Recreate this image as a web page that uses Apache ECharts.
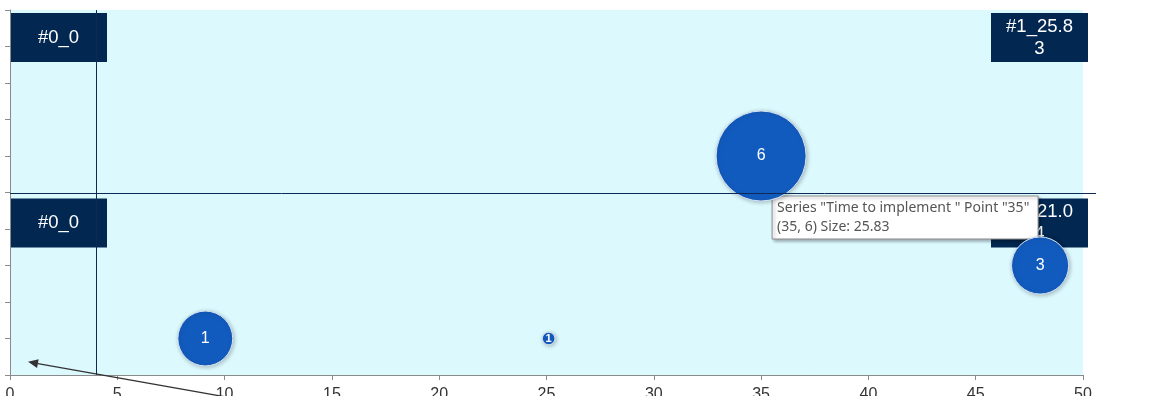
<!DOCTYPE html>
<html>
<head>
<meta charset="utf-8">
<script src="https://cdn.jsdelivr.net/npm/echarts@6/dist/echarts.min.js"></script>
<style>
html,body{margin:0;padding:0;background:#fff;}
#c{width:1170px;height:396px;}
</style>
</head>
<body>
<div id="c"></div>
<script>
// Data
const xValues = [9.1, 25.1, 35, 48];
const yValues = [1, 1, 6, 3];
const sizeValues = [9.6, 0.5, 25.83, 10.4];
const pointLabels = ['1', '1', '6', '3'];
const seriesName = 'Time to implement ';
const xTicks = { min: 0, max: 50, interval: 5 };
const yTicks = { min: 0, max: 10, interval: 1 };
const crossX = 4;
const crossY = 5;
const quadrantLabels = ['#0_0', '#1_25.83', '#0_0', '#1_21.04'];
const tooltipLines = ['Series "Time to implement " Point "35"', '(35, 6) Size: 25.83'];

const maxSize = 25.83;
const maxDiameter = 90;

const chart = echarts.init(document.getElementById('c'), null, { renderer: 'canvas' });

const points = xValues.map((x, i) => ({
  value: [x, yValues[i], sizeValues[i]],
  label: sizeValues[i] < 2 ? { fontSize: 11, fontWeight: 'bold' } : undefined,
  labelText: pointLabels[i]
}));

chart.setOption({
  animation: false,
  grid: { left: 10, top: 10, right: 87, bottom: 21, show: true, backgroundColor: '#dcf9fe', borderWidth: 0, outerBoundsMode: 'none', containLabel: false },
  xAxis: {
    type: 'value', min: xTicks.min, max: xTicks.max, interval: xTicks.interval,
    splitLine: { show: false },
    axisLine: { show: true, onZero: false, lineStyle: { color: '#8a8a8a', width: 1 } },
    axisTick: { show: true, length: 5, lineStyle: { color: '#8a8a8a' } },
    axisLabel: { color: '#333', fontSize: 16, margin: 12, fontFamily: 'Liberation Sans, Arial, sans-serif', hideOverlap: false }
  },
  yAxis: {
    type: 'value', min: yTicks.min, max: yTicks.max, interval: yTicks.interval,
    splitLine: { show: false },
    axisLine: { show: true, onZero: false, lineStyle: { color: '#8a8a8a', width: 1 } },
    axisTick: { show: true, length: 5, lineStyle: { color: '#8a8a8a' } },
    axisLabel: { show: false }
  },
  series: [{
    name: seriesName,
    type: 'scatter',
    data: points,
    symbolSize: d => maxDiameter * Math.sqrt(d[2] / maxSize),
    itemStyle: {
      color: '#125bbe', borderColor: '#d6e4f6', borderWidth: 1,
      shadowBlur: 4, shadowColor: 'rgba(0,0,0,0.25)', shadowOffsetX: 1, shadowOffsetY: 1, opacity: 1
    },
    label: {
      show: true, position: 'inside', color: '#fff', fontSize: 16,
      fontFamily: 'Liberation Sans, Arial, sans-serif',
      formatter: p => pointLabels[p.dataIndex]
    },
    z: 3
  }]
});

function px(x, y) { return chart.convertToPixel({ gridIndex: 0 }, [x, y]); }

const pTL = px(xTicks.min, yTicks.max);
const pBR = px(xTicks.max, yTicks.min);
const pCross = px(crossX, crossY);
const cx = Math.round(pCross[0]) + 0.5;
const cy = Math.round(pCross[1]) + 0.5;

const lineColor = '#0c2a55';
const boxColor = '#022750';
const boxW = 97, boxH = 49;

function labelBox(x, y, text) {
  return {
    type: 'group', x: x, y: y, z: 20,
    children: [
      { type: 'rect', shape: { x: 0, y: 0, width: boxW, height: boxH }, style: { fill: boxColor } },
      { type: 'text', x: boxW / 2, y: boxH / 2, style: {
        text: text, fill: '#fff', font: '18.5px "Liberation Sans", Arial, sans-serif',
        align: 'center', verticalAlign: 'middle', lineHeight: 22
      } }
    ]
  };
}

// wrap the long labels the way the reference shows them
function wrapLabel(t) { return t.length > 7 ? t.slice(0, 7) + '\n' + t.slice(7) : t; }

const arrowTip = px(0.84, 0.36);
const arrowTail = px(10.05, -0.6);
const ang = Math.atan2(arrowTail[1] - arrowTip[1], arrowTail[0] - arrowTip[0]);
const ah = 10, aw = 4.5;
const ax1 = arrowTip[0] + Math.cos(ang) * ah, ay1 = arrowTip[1] + Math.sin(ang) * ah;
const head = [
  [arrowTip[0], arrowTip[1]],
  [ax1 - Math.sin(ang) * aw, ay1 + Math.cos(ang) * aw],
  [ax1 + Math.sin(ang) * aw, ay1 - Math.cos(ang) * aw]
];

const tipBox = px(35, 6);

chart.setOption({
  graphic: [
    { type: 'line', z: 10, shape: { x1: cx, y1: pTL[1], x2: cx, y2: pBR[1] }, style: { stroke: lineColor, lineWidth: 1 } },
    { type: 'line', z: 10, shape: { x1: pTL[0], y1: cy, x2: pBR[0] + 13, y2: cy }, style: { stroke: lineColor, lineWidth: 1 } },
    labelBox(pTL[0], pTL[1] + 3, wrapLabel(quadrantLabels[0])),
    labelBox(pBR[0] - 92, pTL[1] + 3, wrapLabel(quadrantLabels[1])),
    labelBox(pTL[0], pCross[1] + 6, wrapLabel(quadrantLabels[2])),
    labelBox(pBR[0] - 92, pCross[1] + 6, wrapLabel(quadrantLabels[3])),
    { type: 'line', z: 12, shape: { x1: arrowTail[0], y1: arrowTail[1], x2: ax1, y2: ay1 }, style: { stroke: '#333', lineWidth: 1.3 } },
    { type: 'polygon', z: 12, shape: { points: head }, style: { fill: '#333' } },
    {
      type: 'group', x: tipBox[0] + 11, y: tipBox[1] + 40, z: 30,
      children: [
        { type: 'rect', shape: { x: 0, y: 0, width: 266, height: 43 },
          style: { fill: '#fff', stroke: '#8c8c8c', lineWidth: 1, shadowBlur: 3, shadowOffsetX: 2, shadowOffsetY: 2, shadowColor: 'rgba(0,0,0,0.3)' } },
        { type: 'text', x: 5, y: 12, style: { text: tooltipLines[0], fill: '#555', font: '14px "Noto Sans", "Open Sans", sans-serif', verticalAlign: 'middle' } },
        { type: 'text', x: 5, y: 31, style: { text: tooltipLines[1], fill: '#555', font: '14px "Noto Sans", "Open Sans", sans-serif', verticalAlign: 'middle' } }
      ]
    }
  ]
});
</script>
</body>
</html>
